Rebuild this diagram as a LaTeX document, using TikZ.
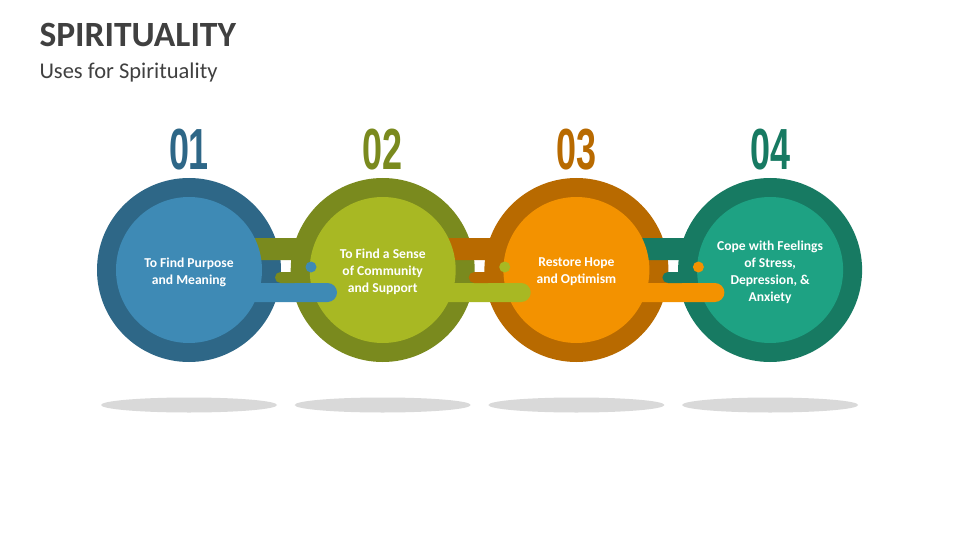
\documentclass[tikz,border=0pt]{standalone}
\usepackage{fontspec}
\setmainfont{Carlito}
\newfontfamily\numfont{Liberation Sans}
\begin{document}
\begin{tikzpicture}[x=1pt,y=-1pt,
  lbl/.style={text=white,font=\bfseries\fontsize{13.6}{17}\selectfont,align=center},
  num/.style={font=\numfont\bfseries\fontsize{58}{58}\selectfont}]
\fill[white] (0,0) rectangle (960,540);
\useasboundingbox (0,0) rectangle (960,540);
\definecolor{oA}{HTML}{2E6787}\definecolor{iA}{HTML}{3E8AB5}
\definecolor{oB}{HTML}{7A8A1E}\definecolor{iB}{HTML}{A8B823}
\definecolor{oC}{HTML}{B86A00}\definecolor{iC}{HTML}{F39200}
\definecolor{oD}{HTML}{177A62}\definecolor{iD}{HTML}{1EA283}
\node[anchor=west,font=\bfseries\fontsize{35.5}{35}\selectfont,text=black!75] (title) at (36,35) {SPIRITUALITY};
\node[anchor=west,font=\fontsize{22.5}{22}\selectfont,text=black!75] (sub) at (36,73) {Uses for Spirituality};
\foreach \i/\o/\in/\n in {0/oA/iA/01,1/oB/iB/02,2/oC/iC/03,3/oD/iD/04}{
  \pgfmathsetmacro\cx{189+193.7*\i}
  \fill[black!15] (\cx,405) ellipse (88 and 7.5);
  \fill[\o] (\cx,270) circle (92);
  \node[num,text=\o] (n\n) at (\cx,150) {\scalebox{0.62}[1]{\n}};
}
\foreach \i/\o in {0/oB,1/oC,2/oD}{
  \pgfmathsetmacro\dx{193.7*\i}
  \fill[\o,rounded corners=11] (240+\dx,238) rectangle (330+\dx,260);
}
\foreach \i/\o/\in in {0/oA/iA,1/oB/iB,2/oC/iC,3/oD/iD}{
  \pgfmathsetmacro\cx{189+193.7*\i}
  \fill[\in] (\cx,270) circle (73);
}
\foreach \i/\p/\o in {0/iA/oB,1/iB/oC,2/iC/oD}{
  \pgfmathsetmacro\dx{193.7*\i}
  \fill[\p,rounded corners=9.5] (230+\dx,283) rectangle (337+\dx,302);
  \fill[\o,rounded corners=5.5] (275+\dx,272) rectangle (300+\dx,283);
  \fill[\p] (311+\dx,267) circle (5.5);
}
\node[lbl] (t1) at (189,272) {To Find Purpose\\and Meaning};
\node[lbl] (t2) at (382.7,272) {To Find a Sense\\of Community\\and Support};
\node[lbl] (t3) at (576.4,272) {Restore Hope\\and Optimism};
\node[lbl] (t4) at (770.1,272) {Cope with Feelings\\of Stress,\\Depression, \&\\Anxiety};
\end{tikzpicture}
\end{document}
